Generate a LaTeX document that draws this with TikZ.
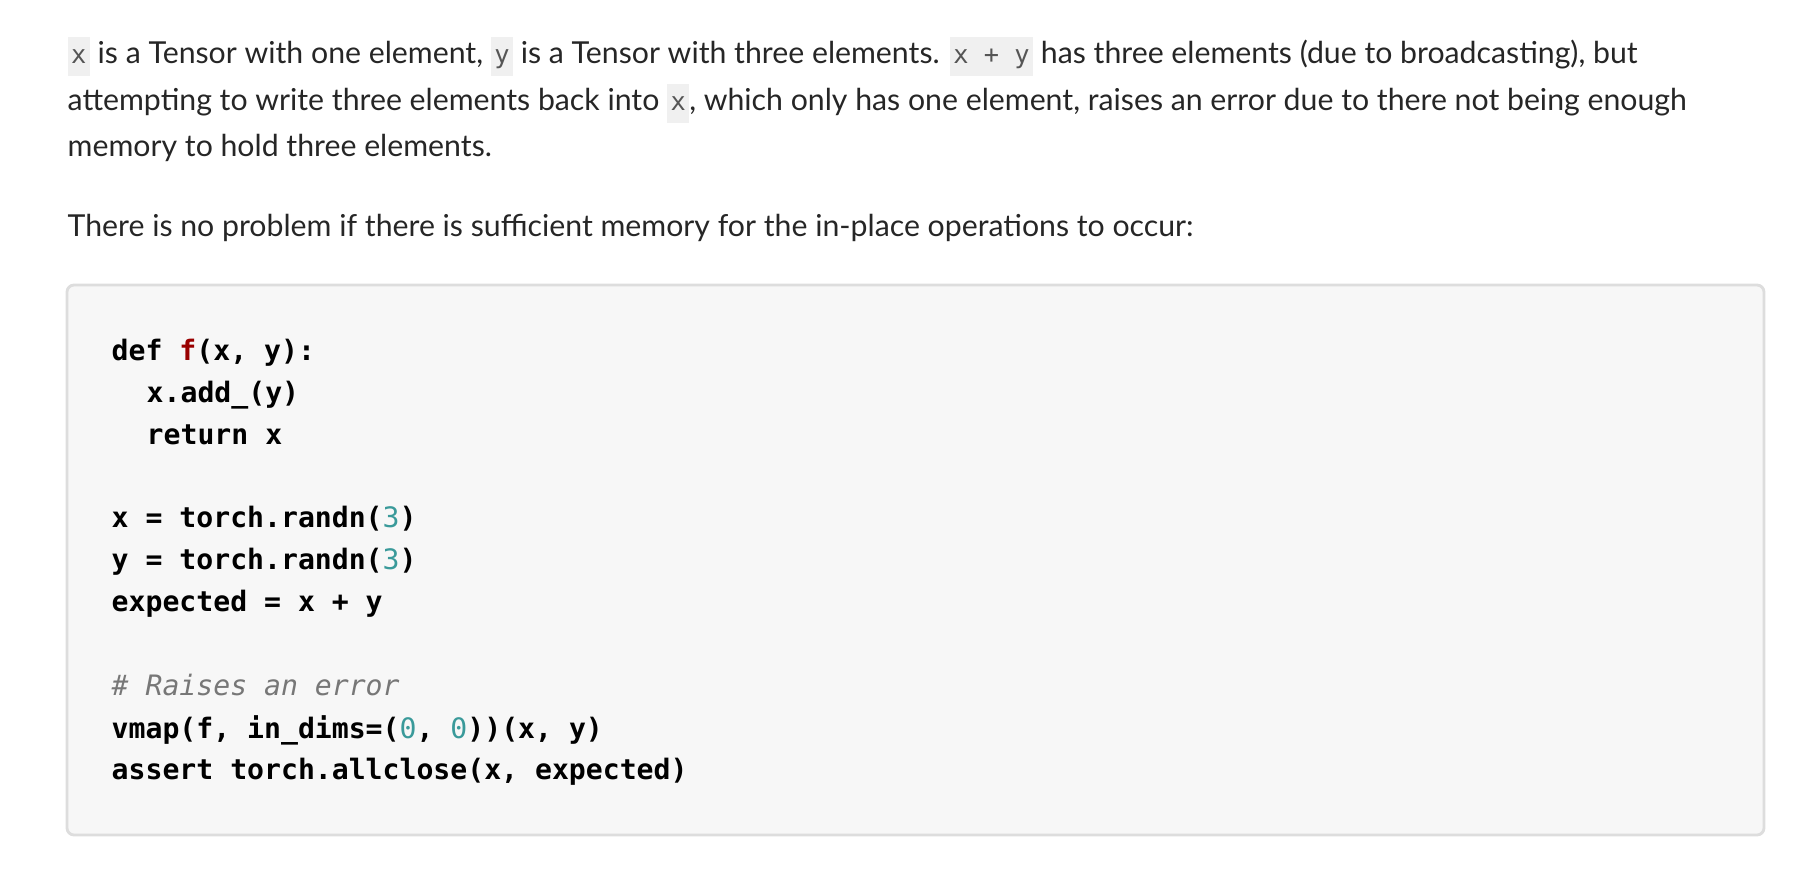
\documentclass[tikz,border=0pt]{standalone}
\usepackage{fontspec}
\setmainfont{Lato}
\setmonofont{DejaVu Sans Mono}
\definecolor{boxfill}{HTML}{F7F7F7}
\definecolor{boxline}{HTML}{DDDDDD}
\definecolor{inl}{HTML}{F0F0F0}
\definecolor{inltext}{HTML}{555555}
\definecolor{fred}{HTML}{990000}
\definecolor{numc}{HTML}{3A9A9A}
\definecolor{comc}{HTML}{777777}
\newcommand{\ic}[1]{{\setlength\fboxsep{1pt}\colorbox{inl}{\ttfamily\fontsize{7.2}{9}\selectfont\color{inltext}\strut #1}}}
\begin{document}
\begin{tikzpicture}[x=0.01cm,y=-0.01cm,
  txt/.style={anchor=base west,inner sep=0pt,font=\fontsize{8.6}{13}\selectfont,text=black!85},
  code/.style={anchor=base west,inner sep=0pt,font=\ttfamily\bfseries\fontsize{8}{12}\selectfont}]
\fill[white] (0,0) rectangle (1802,890);
\useasboundingbox (0,0) rectangle (1802,890);
\node[txt] (l1) at (67,63) {\ic{x} is a Tensor with one element, \ic{y} is a Tensor with three elements. \ic{x + y} has three elements (due to broadcasting), but};
\node[txt] (l2) at (67,110) {attempting to write three elements back into \ic{x}, which only has one element, raises an error due to there not being enough};
\node[txt] (l3) at (67,156) {memory to hold three elements.};
\node[txt] (l4) at (67,236) {There is no problem if there is sufficient memory for the in-place operations to occur:};
\draw[boxline,fill=boxfill,rounded corners=2pt,line width=0.8pt] (67,285) rectangle (1764,835);
\node[code] (c1) at (111,360) {def \textcolor{fred}{f}(x, y):};
\node[code] (c2) at (146,402) {x.add\_(y)};
\node[code] (c3) at (146,444) {return x};
\node[code] (c4) at (111,527) {x = torch.randn(\textcolor{numc}{\mdseries 3})};
\node[code] (c5) at (111,569) {y = torch.randn(\textcolor{numc}{\mdseries 3})};
\node[code] (c6) at (111,611) {expected = x + y};
\node[code,font=\ttfamily\itshape\fontsize{8}{12}\selectfont,text=comc] (c7) at (111,695) {\# Raises an error};
\node[code] (c8) at (111,738) {vmap(f, in\_dims=(\textcolor{numc}{\mdseries 0}, \textcolor{numc}{\mdseries 0}))(x, y)};
\node[code] (c9) at (111,779) {assert torch.allclose(x, expected)};
\end{tikzpicture}
\end{document}
